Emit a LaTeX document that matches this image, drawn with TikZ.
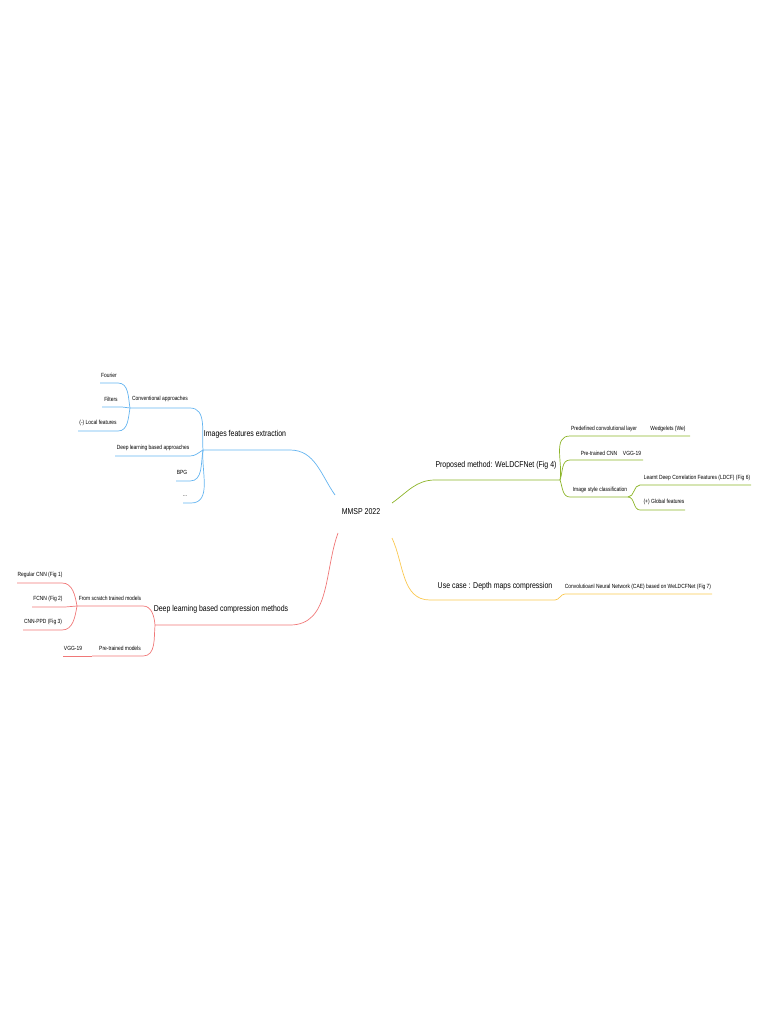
\documentclass[tikz,border=0pt]{standalone}
\usepackage{fontspec}
\setmainfont{Liberation Sans}[FakeStretch=0.82]
\begin{document}
\begin{tikzpicture}[x=1pt,y=-1pt,
  sm/.style={inner sep=0pt,font=\fontsize{6}{7}\selectfont},
  big/.style={inner sep=0pt,font=\fontsize{8.5}{10}\selectfont},
  bl/.style={draw=cb,line width=0.7pt},
  rd/.style={draw=cr,line width=0.7pt},
  gr/.style={draw=cg,line width=0.7pt},
  orr/.style={draw=co,line width=0.7pt}]
\definecolor{cb}{RGB}{100,180,240}
\definecolor{cr}{RGB}{240,120,120}
\definecolor{cg}{RGB}{140,180,40}
\definecolor{co}{RGB}{250,200,80}
\useasboundingbox (0,0) rectangle (768,1024);
\node[big] (root) at (361,512) {MMSP 2022};
% blue
\node[big] (ife) at (245,434) {Images features extraction};
\coordinate (ifeA) at (203,450); \coordinate (ifeB) at (290,450); \coordinate (rb) at (335,495);
\draw[bl] (ifeA) -- (ifeB) to[out=0,in=125] (rb);
\node[sm] (conv) at (160,399) {Conventional approaches};
\coordinate (convA) at (130,408); \coordinate (convB) at (190,408);
\draw[bl] (convA) -- (convB) to[out=0,in=95] (ifeA);
\node[sm] (four) at (109,375) {Fourier};
\coordinate (fA) at (100,383); \coordinate (fB) at (118,383);
\draw[bl] (fA) -- (fB) to[out=0,in=100] (convA);
\node[sm] (filt) at (111,399) {Filters};
\coordinate (flA) at (102,407); \coordinate (flB) at (122,407);
\draw[bl] (flA) -- (flB) -- (convA);
\node[sm] (loc) at (98,423) {(-) Local features};
\coordinate (lA) at (78,431); \coordinate (lB) at (118,431);
\draw[bl] (lA) -- (lB) to[out=0,in=-100] (convA);
\node[sm] (dl) at (153,448) {Deep learning based approaches};
\coordinate (dlA) at (115,456); \coordinate (dlB) at (190,456);
\draw[bl] (dlA) -- (dlB) to[out=0,in=-150] (ifeA);
\node[sm] (bpg) at (182,472) {BPG};
\coordinate (bA) at (176,481); \coordinate (bB) at (190,481);
\draw[bl] (bA) -- (bB) to[out=0,in=-100] (ifeA);
\node[sm] (dots) at (185,496) {...};
\coordinate (dA) at (183,503); \coordinate (dB) at (191,503);
\draw[bl] (dA) -- (dB) to[out=0,in=-95] (ifeA);
% red
\node[big] (dlc) at (221,609) {Deep learning based compression methods};
\coordinate (dlcA) at (155,625); \coordinate (dlcB) at (290,625); \coordinate (rr) at (338,533);
\draw[rd] (dlcA) -- (dlcB) to[out=0,in=-110] (rr);
\node[sm] (fs) at (110,598) {From scratch trained models};
\coordinate (fsA) at (77,606); \coordinate (fsB) at (143,606);
\draw[rd] (fsA) -- (fsB) to[out=0,in=95] (dlcA);
\node[sm] (rc) at (40,575) {Regular CNN (Fig 1)};
\coordinate (rcA) at (17,583); \coordinate (rcB) at (62,583);
\draw[rd] (rcA) -- (rcB) to[out=0,in=100] (fsA);
\node[sm] (fc) at (48,599) {FCNN (Fig 2)};
\coordinate (fcA) at (32,607); \coordinate (fcB) at (65,607);
\draw[rd] (fcA) -- (fcB) -- (fsA);
\node[sm] (cp) at (43,622) {CNN-PPD (Fig 3)};
\coordinate (cpA) at (23,630); \coordinate (cpB) at (62,630);
\draw[rd] (cpA) -- (cpB) to[out=0,in=-100] (fsA);
\node[sm] (pt) at (120,648) {Pre-trained models};
\coordinate (ptA) at (92,656); \coordinate (ptB) at (143,656);
\draw[rd] (ptA) -- (ptB) to[out=0,in=-95] (dlcA);
\node[sm] (vg) at (73,648) {VGG-19};
\coordinate (vgA) at (63,656);
\draw[rd] (vgA) -- (ptA);
% green
\node[big] (pm) at (496,465) {Proposed method: WeLDCFNet (Fig 4)};
\coordinate (rg) at (392,503); \coordinate (pmA) at (435,480); \coordinate (pmB) at (560,480);
\draw[gr] (rg) to[out=35,in=180] (pmA) -- (pmB);
\node[sm] (pd) at (604,429) {Predefined convolutional layer};
\node[sm] (wg) at (668,429) {Wedgelets (We)};
\coordinate (pdA) at (570,436); \coordinate (pdB) at (690,436);
\draw[gr] (pmB) to[out=80,in=180] (pdA) -- (pdB);
\node[sm] (pc) at (599,453) {Pre-trained CNN};
\node[sm] (vg2) at (632,453) {VGG-19};
\coordinate (pcA) at (570,460); \coordinate (pcB) at (643,460);
\draw[gr] (pmB) to[out=70,in=180] (pcA) -- (pcB);
\node[sm] (isc) at (600,490) {Image style classification};
\coordinate (iscA) at (570,497); \coordinate (iscB) at (628,497);
\draw[gr] (pmB) to[out=-70,in=180] (iscA) -- (iscB);
\node[sm] (ld) at (697,478) {Learnt Deep Correlation Features (LDCF) (Fig 6)};
\coordinate (ldA) at (640,485); \coordinate (ldB) at (751,485);
\draw[gr] (iscB) to[out=0,in=180] (ldA) -- (ldB);
\node[sm] (gf) at (664,502) {(+) Global features};
\coordinate (gfA) at (640,510); \coordinate (gfB) at (685,510);
\draw[gr] (iscB) to[out=0,in=180] (gfA) -- (gfB);
% orange
\node[big] (uc) at (495,586) {Use case : Depth maps compression};
\coordinate (ro) at (392,538); \coordinate (ucA) at (430,600); \coordinate (ucB) at (555,600);
\draw[orr] (ro) to[out=-65,in=180] (ucA) -- (ucB);
\node[sm] (cae) at (638,587) {Convolutioanl Neural Network (CAE) based on WeLDCFNet (Fig 7)};
\coordinate (caeA) at (565,594); \coordinate (caeB) at (712,594);
\draw[orr] (ucB) to[out=0,in=180] (caeA) -- (caeB);
\end{tikzpicture}
\end{document}
